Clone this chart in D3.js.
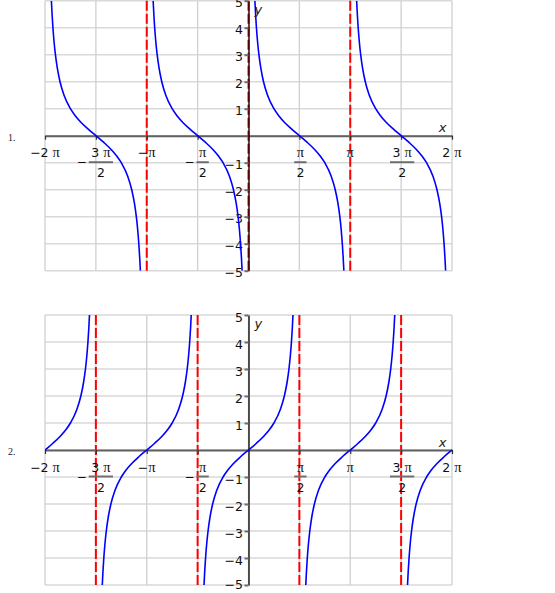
<!DOCTYPE html>
<html lang="en">
<head>
<meta charset="UTF-8"/>
<title>cot x and tan x</title>
<script src="https://cdn.jsdelivr.net/npm/d3@7"></script>
<style>
    html, body { margin: 0; background: #fff; }
    svg { display: block; }
</style>
</head>
<body>
<div id="container"></div>
<script>
    const PI = Math.PI

    // x ticks in multiples of pi/2, and how each one is labelled
    const xTickHalfPis = [-4, -3, -2, -1, 1, 2, 3, 4]
    const xTickLabels = [
        {text: "−2 π"},
        {num: "3 π", den: "2", neg: true},
        {text: "−π"},
        {num: "π", den: "2", neg: true},
        {num: "π", den: "2"},
        {text: "π"},
        {num: "3 π", den: "2"},
        {text: "2 π"}
    ]
    const yTicks = [-5, -4, -3, -2, -1, 1, 2, 3, 4, 5]

    // one branch of the curve, read off where it crosses the grid rows
    // (x offset from the zero crossing in radians, y value)
    const branchDx = [-1.3734, -1.3521, -1.3258, -1.2925, -1.2490, -1.1903, -1.1071, -0.9828,
        -0.7854, -0.6435, -0.4636, -0.2450, 0, 0.2450, 0.4636, 0.6435, 0.7854,
        0.9828, 1.1071, 1.1903, 1.2490, 1.2925, 1.3258, 1.3521, 1.3734]
    const branchDy = [-5, -4.5, -4, -3.5, -3, -2.5, -2, -1.5,
        -1, -0.75, -0.5, -0.25, 0, 0.25, 0.5, 0.75, 1,
        1.5, 2, 2.5, 3, 3.5, 4, 4.5, 5]

    // plot 1: cot x, zero crossings at odd multiples of pi/2, falling branches
    const cotCrossings = [-1.5, -0.5, 0.5, 1.5]   // in units of pi
    const cotAsymptotes = [-1, 0, 1]
    // plot 2: tan x, zero crossings at multiples of pi, rising branches
    const tanCrossings = [-2, -1, 0, 1, 2]
    const tanAsymptotes = [-1.5, -0.5, 0.5, 1.5]

    const plots = [
        {name: "1.", top: 0.7, bottom: 270.7, crossings: cotCrossings, sign: -1, asymptotes: cotAsymptotes},
        {name: "2.", top: 315, bottom: 585, crossings: tanCrossings, sign: 1, asymptotes: tanAsymptotes}
    ]

    const width = 555
    const height = 593
    const numFont = "'DejaVu Sans', Verdana, sans-serif"
    const piFont = "'Liberation Serif', 'Times New Roman', serif"

    const svg = d3.select("#container")
        .append("svg")
        .attr("width", width)
        .attr("height", height)

    const x = d3.scaleLinear().domain([-2 * PI, 2 * PI]).range([45, 452])

    // writes text where any pi is set in the serif face
    function setLabel(sel, str) {
        str.split(/(π)/).filter(s => s.length).forEach(part => {
            sel.append("tspan")
                .attr("font-family", part === "π" ? piFont : numFont)
                .attr("font-size", part === "π" ? 14.5 : 12.5)
                .text(part)
        })
    }

    plots.forEach((plot, pi) => {
        const y = d3.scaleLinear().domain([-5, 5]).range([plot.bottom, plot.top])
        const g = svg.append("g")

        g.append("clipPath")
            .attr("id", "clip" + pi)
            .append("rect")
            .attr("x", x(-2 * PI))
            .attr("y", y(5))
            .attr("width", x(2 * PI) - x(-2 * PI))
            .attr("height", y(-5) - y(5))

        // grid
        g.append("g")
            .selectAll("line")
            .data(d3.range(-5, 6))
            .join("line")
            .attr("x1", x(-2 * PI)).attr("x2", x(2 * PI))
            .attr("y1", d => y(d)).attr("y2", d => y(d))
            .attr("stroke", "#d9d9d9")
            .attr("stroke-width", 1.6)

        g.append("g")
            .selectAll("line")
            .data(d3.range(-4, 5))
            .join("line")
            .attr("x1", d => x(d * PI / 2)).attr("x2", d => x(d * PI / 2))
            .attr("y1", y(5)).attr("y2", y(-5))
            .attr("stroke", "#d0d0d0")
            .attr("stroke-width", 1.3)

        // asymptotes
        g.append("g")
            .selectAll("line")
            .data(plot.asymptotes)
            .join("line")
            .attr("x1", d => x(d * PI)).attr("x2", d => x(d * PI))
            .attr("y1", y(5)).attr("y2", y(-5))
            .attr("stroke", "#ff0000")
            .attr("stroke-width", 2)
            .attr("stroke-dasharray", "10,3")

        // x axis
        const xAxis = g.append("g")
            .attr("transform", `translate(0,${y(0)})`)
            .call(d3.axisBottom(x)
                .tickValues(xTickHalfPis.map(k => k * PI / 2))
                .tickSize(4)
                .tickSizeOuter(0)
                .tickFormat(""))
        xAxis.select(".domain").attr("stroke", "#606060").attr("stroke-width", 2)
        xAxis.selectAll(".tick line").attr("stroke", "#303030").attr("stroke-width", 1.2)

        // y axis
        const yAxis = g.append("g")
            .attr("transform", `translate(${x(0)},0)`)
            .call(d3.axisLeft(y)
                .tickValues(yTicks)
                .tickSize(4)
                .tickSizeOuter(0)
                .tickPadding(1.5)
                .tickFormat(d => d < 0 ? "−" + (-d) : String(d)))
        yAxis.select(".domain").attr("stroke", "#000").attr("stroke-width", 1.3)
        yAxis.selectAll(".tick line").attr("stroke", "#707070").attr("stroke-width", 2)
        yAxis.selectAll(".tick text")
            .attr("font-family", numFont)
            .attr("font-size", 12.5)
            .attr("fill", "#111")
            .attr("dy", d => Math.min(6, height - 4.5 - y(d)) + "px")

        // curve branches
        const line = d3.line()
            .x(d => x(d[0]))
            .y(d => y(d[1]))
            .curve(d3.curveMonotoneX)

        g.append("g")
            .attr("clip-path", `url(#clip${pi})`)
            .selectAll("path")
            .data(plot.crossings.map(c => branchDx.map((dx, i) => [c * PI + dx, plot.sign * branchDy[i]])))
            .join("path")
            .attr("d", d => line(plot.sign < 0 ? d.slice().reverse() : d))
            .attr("fill", "none")
            .attr("stroke", "#0000ff")
            .attr("stroke-width", 1.6)

        // x tick labels
        const base = y(0)
        xTickHalfPis.forEach((k, i) => {
            const lab = xTickLabels[i]
            const tx = x(k * PI / 2)
            if (lab.text) {
                const t = g.append("text")
                    .attr("x", tx).attr("y", base + 21.5)
                    .attr("text-anchor", "middle")
                    .attr("fill", "#111")
                setLabel(t, lab.text)
                return
            }
            const cx = tx + (lab.neg ? 5 : 1)
            const num = g.append("text")
                .attr("x", cx).attr("y", base + 21.5)
                .attr("text-anchor", "middle")
                .attr("fill", "#111")
            setLabel(num, lab.num)
            const w = num.node().getComputedTextLength() + 5
            g.append("line")
                .attr("x1", cx - w / 2).attr("x2", cx + w / 2)
                .attr("y1", base + 26.5).attr("y2", base + 26.5)
                .attr("stroke", "#707070")
                .attr("stroke-width", 2)
            g.append("text")
                .attr("x", cx).attr("y", base + 41.5)
                .attr("text-anchor", "middle")
                .attr("font-family", numFont)
                .attr("font-size", 12.5)
                .attr("fill", "#111")
                .text(lab.den)
            if (lab.neg) {
                g.append("text")
                    .attr("x", cx - w / 2 - 2).attr("y", base + 30.5)
                    .attr("text-anchor", "end")
                    .attr("font-family", numFont)
                    .attr("font-size", 12)
                    .attr("fill", "#111")
                    .text("−")
            }
        })

        // axis names
        g.append("text")
            .attr("x", 442.5).attr("y", base - 3.5)
            .attr("text-anchor", "middle")
            .attr("font-family", numFont)
            .attr("font-style", "italic")
            .attr("font-size", 13)
            .attr("fill", "#222")
            .text("x")
        g.append("text")
            .attr("x", x(0) + 6).attr("y", y(5) + 13)
            .attr("font-family", numFont)
            .attr("font-style", "italic")
            .attr("font-size", 13)
            .attr("fill", "#222")
            .text("y")

        // item number
        g.append("text")
            .attr("x", 8).attr("y", base + 5)
            .attr("font-family", piFont)
            .attr("font-size", 10)
            .attr("fill", "#222")
            .text(plot.name)
    })
</script>
</body>
</html>
